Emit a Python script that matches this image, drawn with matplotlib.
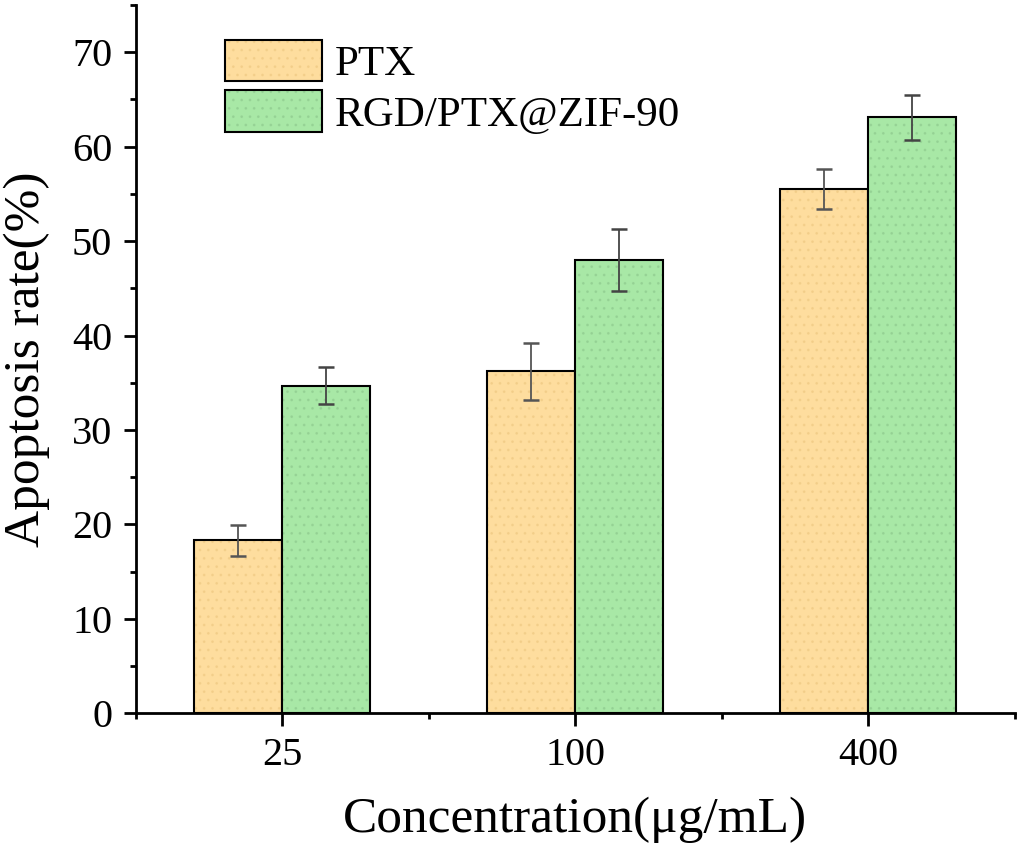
import matplotlib.pyplot as plt
import numpy as np
from matplotlib.ticker import MultipleLocator, FixedLocator

plt.rcParams['font.family'] = ['Liberation Serif', 'DejaVu Serif']
plt.rcParams['hatch.linewidth'] = 0.8

groups = ['25', '100', '400']
ptx = [18.3, 36.2, 55.5]
ptx_err = [1.6, 3.0, 2.1]
rgd = [34.7, 48.0, 63.1]
rgd_err = [2.0, 3.3, 2.4]

x = np.arange(1, len(groups) + 1)
w = 0.3

fig = plt.figure(figsize=(10.2, 8.46), dpi=100)
ax = fig.add_axes([0.133, 0.157, 0.862, 0.837])

b1 = ax.bar(x - w / 2, ptx, w, color='#FEDD9E', edgecolor='black', linewidth=1.5,
            hatch='..', label='PTX')
b2 = ax.bar(x + w / 2, rgd, w, color='#A8E8A6', edgecolor='black', linewidth=1.5,
            hatch='..', label='RGD/PTX@ZIF-90')
for b in b1:
    b._hatch_color = (0.93, 0.78, 0.5, 0.5)
for b in b2:
    b._hatch_color = (0.55, 0.78, 0.55, 0.5)

ax.errorbar(x - w / 2, ptx, yerr=ptx_err, fmt='none', ecolor='#555555',
            elinewidth=1.3, capsize=5.5, capthick=1.8)
ax.errorbar(x + w / 2, rgd, yerr=rgd_err, fmt='none', ecolor='#444444',
            elinewidth=1.3, capsize=5.5, capthick=1.8)

ax.set_xlim(0.5, 3.5)
ax.set_ylim(0, 75)
ax.set_xticks(x)
ax.set_xticklabels(groups)
ax.xaxis.set_minor_locator(FixedLocator([0.5, 1.5, 2.5, 3.5]))
ax.yaxis.set_major_locator(MultipleLocator(10))
ax.yaxis.set_minor_locator(MultipleLocator(5))

for s in ['top', 'right']:
    ax.spines[s].set_visible(False)
for s in ['left', 'bottom']:
    ax.spines[s].set_linewidth(2)

ax.tick_params(which='major', direction='out', length=9, width=2, labelsize=29, pad=8)
ax.tick_params(which='minor', direction='out', length=4, width=2)

ax.set_xlabel('Concentration(μg/mL)', fontsize=37, labelpad=16)
ax.set_ylabel('Apoptosis rate(%)', fontsize=37)
ax.yaxis.set_label_coords(-0.097, 0.5)

ax.legend(loc='upper left', bbox_to_anchor=(225 / 1020, 1 - 40 / 846),
          bbox_transform=fig.transFigure, frameon=False, fontsize=31,
          handlelength=2.25, handleheight=1.1, labelspacing=0.14, handletextpad=0.3,
          borderpad=0, borderaxespad=0)

fig.savefig('out.png', dpi=100)
